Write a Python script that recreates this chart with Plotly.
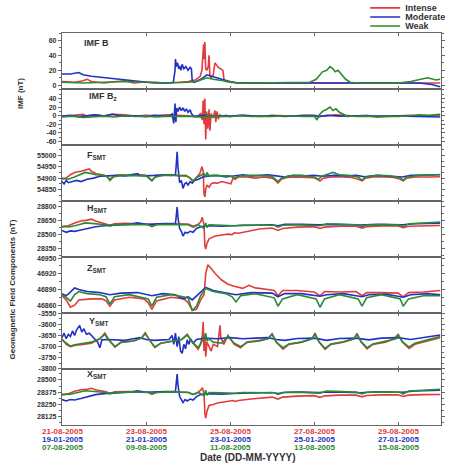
import plotly.graph_objects as go
from plotly.subplots import make_subplots

# ---------------- data (day offset from first date, value) ----------------
IMFB_RED = [(0,5),(0.3,4),(0.5,6),(0.6,8),(0.7,5),(0.85,4),(1.0,3),(1.3,5),(1.5,6),(1.7,3),(1.9,4),(2.2,4),(2.5,3),(2.8,4),(3.0,5),(3.17,7),(3.29,12),(3.33,20),(3.37,55),(3.38,35),(3.40,58),(3.42,22),(3.45,20),(3.48,25),(3.50,40),(3.52,12),(3.55,10),(3.6,14),(3.64,30),(3.68,27),(3.72,24),(3.78,22),(3.83,20),(3.86,6),(3.9,5),(4.0,4),(4.17,3),(4.5,3),(5.0,3),(5.5,4),(6.0,3),(6.5,3),(7.0,4),(7.5,3),(8.0,3),(8.5,3),(9.0,3)]
IMFB_BLUE = [(0,15),(0.2,15),(0.4,17),(0.5,14),(0.7,12),(1.0,10),(1.3,8),(1.6,6),(1.8,5),(2.0,4),(2.2,3),(2.5,3),(2.65,4),(2.69,20),(2.7,35),(2.72,25),(2.75,30),(2.78,22),(2.8,26),(2.83,20),(2.86,28),(2.9,22),(2.95,25),(3.0,20),(3.05,24),(3.08,22),(3.1,5),(3.15,4),(3.3,8),(3.45,14),(3.6,11),(3.8,8),(4.0,5),(4.2,3),(4.6,3),(5.0,3),(5.5,3),(6.0,3),(6.5,2),(7.0,3),(7.5,3),(8.0,3),(8.5,3),(8.8,1),(9.0,-2)]
IMFB_GREEN = [(0,4),(0.5,3),(1.0,4),(1.5,5),(2.0,4),(2.5,3),(3.0,4),(3.2,5),(3.35,8),(3.45,10),(3.6,8),(3.8,6),(4.0,4),(4.2,3),(4.5,3),(5.0,3),(5.5,3),(5.9,4),(6.05,8),(6.14,15),(6.2,18),(6.3,20),(6.38,25),(6.45,22),(6.5,18),(6.57,20),(6.65,14),(6.75,8),(6.86,4),(7.0,3),(7.5,3),(8.0,3),(8.3,5),(8.5,8),(8.7,10),(8.9,7),(9.0,8)]

BZ_RED = [(0,-2),(0.25,1),(0.5,3),(0.6,-1),(0.75,2),(1.0,0),(1.25,3),(1.5,2),(1.75,-1),(2.0,1),(2.25,0),(2.5,2),(2.75,1),(3.0,0),(3.2,-3),(3.3,5),(3.34,-10),(3.36,35),(3.38,-20),(3.40,40),(3.42,-55),(3.44,10),(3.47,-30),(3.50,15),(3.52,-35),(3.55,5),(3.6,-5),(3.64,12),(3.66,-15),(3.69,10),(3.72,-8),(3.76,2),(3.8,-2),(3.9,1),(4.0,-2),(4.25,1),(4.5,0),(4.75,-2),(5.0,1),(5.25,0),(5.5,-1),(5.75,1),(6.0,0),(6.25,-1),(6.5,2),(6.75,0),(7.0,-1),(7.25,1),(7.5,-3),(7.75,-2),(8.0,0),(8.25,1),(8.5,-1),(8.75,0),(9.0,1)]
BZ_BLUE = [(0,-1),(0.2,1),(0.4,-2),(0.6,0),(0.8,2),(1.0,-1),(1.2,4),(1.3,1),(1.5,-1),(1.8,0),(2.0,-2),(2.2,1),(2.4,0),(2.55,-1),(2.62,4),(2.66,-18),(2.69,28),(2.71,-15),(2.73,18),(2.76,10),(2.8,20),(2.84,12),(2.88,18),(2.92,10),(2.96,16),(3.0,8),(3.05,14),(3.08,5),(3.12,0),(3.2,-1),(3.4,1),(3.6,-2),(3.8,0),(4.0,-1),(4.3,1),(4.6,-1),(5.0,0),(5.3,-2),(5.6,0),(6.0,1),(6.1,-3),(6.3,1),(6.6,-1),(7.0,0),(7.4,-1),(7.8,0),(8.2,-1),(8.6,-2),(9.0,-3)]
BZ_GREEN = [(0,-3),(0.25,-1),(0.5,-4),(0.75,-2),(1.0,-1),(1.25,-3),(1.5,0),(1.75,-2),(2.0,-1),(2.25,-3),(2.5,-1),(2.75,-2),(3.0,-1),(3.25,-3),(3.4,-5),(3.45,3),(3.5,-2),(3.75,-1),(4.0,-2),(4.25,0),(4.5,-2),(4.75,-1),(5.0,-2),(5.25,0),(5.5,-1),(5.75,-2),(6.0,-1),(6.07,-10),(6.12,2),(6.2,10),(6.3,15),(6.38,20),(6.45,12),(6.52,16),(6.6,8),(6.7,3),(6.8,-2),(6.9,0),(7.0,-2),(7.25,-1),(7.5,-3),(7.75,-1),(8.0,-2),(8.25,0),(8.5,2),(8.75,1),(9.0,3)]

F_RED = [(0,54895),(0.1,54900),(0.2,54915),(0.3,54925),(0.45,54930),(0.55,54935),(0.65,54940),(0.7,54930),(0.8,54920),(0.95,54915),(1.05,54910),(1.14,54895),(1.25,54910),(1.4,54915),(1.6,54912),(1.8,54915),(2.0,54912),(2.08,54900),(2.14,54890),(2.22,54905),(2.35,54912),(2.6,54915),(2.8,54910),(2.95,54912),(3.05,54900),(3.12,54885),(3.2,54905),(3.28,54920),(3.33,54950),(3.36,54930),(3.38,54830),(3.40,54818),(3.42,54850),(3.45,54870),(3.5,54860),(3.55,54875),(3.6,54880),(3.7,54878),(3.8,54885),(3.95,54880),(4.02,54875),(4.07,54900),(4.12,54895),(4.2,54905),(4.4,54905),(4.6,54900),(4.8,54905),(5.0,54900),(5.08,54890),(5.14,54878),(5.22,54895),(5.35,54903),(5.6,54905),(5.8,54903),(6.0,54902),(6.08,54895),(6.14,54888),(6.22,54900),(6.4,54905),(6.7,54905),(6.9,54903),(7.05,54895),(7.14,54888),(7.22,54900),(7.4,54905),(7.7,54905),(7.9,54903),(8.05,54895),(8.12,54888),(8.2,54900),(8.4,54905),(8.7,54905),(9.0,54906)]
F_BLUE = [(0,54885),(0.05,54875),(0.1,54890),(0.15,54880),(0.25,54885),(0.35,54890),(0.45,54885),(0.6,54895),(0.75,54900),(0.9,54908),(1.1,54910),(1.3,54912),(1.5,54910),(1.7,54915),(1.8,54920),(1.85,54912),(2.0,54910),(2.2,54912),(2.4,54915),(2.6,54912),(2.7,54915),(2.72,54960),(2.74,55015),(2.76,54950),(2.78,54900),(2.8,54880),(2.84,54890),(2.88,54855),(2.92,54875),(2.96,54880),(3.0,54870),(3.05,54885),(3.1,54878),(3.15,54890),(3.25,54895),(3.35,54905),(3.5,54910),(3.7,54912),(3.9,54905),(4.1,54910),(4.3,54915),(4.5,54910),(4.7,54912),(4.9,54915),(5.1,54910),(5.3,54905),(5.5,54912),(5.8,54910),(6.0,54912),(6.2,54908),(6.5,54912),(6.8,54910),(7.0,54912),(7.2,54906),(7.5,54912),(7.8,54910),(8.1,54905),(8.3,54912),(8.6,54914),(9.0,54915)]
F_GREEN = [(0,54900),(0.15,54895),(0.3,54905),(0.45,54915),(0.55,54925),(0.65,54922),(0.8,54915),(1.0,54912),(1.08,54905),(1.14,54890),(1.22,54905),(1.4,54912),(1.7,54912),(2.0,54910),(2.08,54898),(2.14,54888),(2.22,54905),(2.4,54912),(2.7,54912),(2.95,54910),(3.05,54900),(3.12,54888),(3.2,54902),(3.3,54912),(3.38,54920),(3.42,54905),(3.45,54925),(3.5,54910),(3.6,54912),(3.8,54910),(4.0,54910),(4.1,54900),(4.2,54908),(4.5,54912),(4.8,54910),(5.0,54908),(5.08,54895),(5.14,54885),(5.22,54900),(5.4,54910),(5.7,54912),(6.0,54905),(6.1,54895),(6.2,54910),(6.45,54925),(6.6,54915),(6.8,54912),(7.05,54905),(7.14,54890),(7.22,54905),(7.5,54912),(7.8,54910),(8.05,54902),(8.12,54890),(8.2,54905),(8.5,54912),(8.8,54914),(9.0,54916)]

H_RED = [(0,28580),(0.15,28590),(0.3,28620),(0.45,28640),(0.6,28650),(0.7,28660),(0.8,28640),(0.95,28620),(1.05,28615),(1.14,28595),(1.25,28610),(1.5,28615),(1.8,28612),(2.05,28605),(2.14,28590),(2.22,28605),(2.5,28612),(2.8,28610),(3.0,28608),(3.12,28585),(3.22,28600),(3.3,28630),(3.34,28680),(3.36,28640),(3.38,28600),(3.40,28380),(3.42,28340),(3.45,28400),(3.5,28450),(3.55,28460),(3.65,28480),(3.8,28490),(3.95,28500),(4.05,28495),(4.1,28515),(4.2,28510),(4.4,28530),(4.7,28555),(5.0,28565),(5.14,28540),(5.25,28560),(5.6,28575),(6.0,28580),(6.14,28560),(6.25,28575),(6.6,28585),(7.0,28585),(7.14,28565),(7.25,28580),(7.6,28588),(8.0,28588),(8.12,28570),(8.25,28585),(8.6,28590),(9.0,28592)]
H_BLUE = [(0,28540),(0.1,28520),(0.2,28535),(0.3,28530),(0.45,28545),(0.6,28560),(0.8,28580),(1.0,28590),(1.3,28600),(1.6,28605),(1.8,28620),(2.0,28605),(2.3,28610),(2.6,28612),(2.7,28615),(2.72,28700),(2.74,28790),(2.76,28680),(2.8,28560),(2.84,28530),(2.88,28480),(2.93,28520),(2.98,28510),(3.05,28530),(3.12,28520),(3.2,28560),(3.3,28580),(3.5,28590),(3.8,28585),(4.1,28590),(4.5,28595),(5.0,28600),(5.14,28590),(5.3,28605),(5.7,28605),(6.1,28600),(6.5,28605),(7.1,28598),(7.5,28605),(8.1,28600),(8.4,28612),(9.0,28618)]
H_GREEN = [(0,28580),(0.2,28580),(0.4,28600),(0.55,28620),(0.7,28615),(0.9,28605),(1.05,28600),(1.14,28585),(1.25,28600),(1.6,28605),(2.05,28600),(2.14,28580),(2.25,28600),(2.6,28605),(3.0,28600),(3.12,28575),(3.25,28600),(3.38,28560),(3.42,28620),(3.45,28570),(3.5,28600),(3.8,28595),(4.1,28590),(4.3,28598),(4.8,28600),(5.05,28595),(5.14,28575),(5.25,28595),(5.6,28600),(6.0,28598),(6.14,28590),(6.3,28612),(6.6,28605),(7.0,28600),(7.14,28580),(7.25,28598),(7.7,28602),(8.05,28598),(8.12,28580),(8.25,28610),(8.6,28620),(9.0,28630)]

Z_RED = [(0,46878),(0.1,46870),(0.2,46856),(0.3,46860),(0.4,46870),(0.7,46872),(0.95,46872),(1.05,46868),(1.14,46858),(1.25,46870),(1.6,46875),(1.95,46872),(2.05,46865),(2.14,46852),(2.25,46868),(2.6,46875),(2.9,46872),(3.0,46865),(3.1,46850),(3.2,46852),(3.3,46870),(3.38,46880),(3.42,46920),(3.47,46937),(3.55,46930),(3.65,46920),(3.8,46908),(3.95,46900),(4.1,46896),(4.3,46892),(4.45,46898),(4.6,46893),(4.9,46890),(5.05,46888),(5.14,46878),(5.25,46888),(5.6,46888),(6.0,46885),(6.14,46878),(6.25,46886),(6.6,46885),(7.0,46886),(7.14,46878),(7.25,46884),(7.6,46884),(8.0,46883),(8.12,46876),(8.25,46884),(8.6,46885),(9.0,46888)]
Z_BLUE = [(0,46882),(0.1,46878),(0.2,46885),(0.3,46893),(0.4,46890),(0.6,46886),(0.9,46884),(1.14,46880),(1.4,46883),(1.8,46884),(2.14,46878),(2.4,46882),(2.7,46880),(2.8,46875),(2.9,46872),(3.0,46876),(3.1,46870),(3.2,46878),(3.3,46886),(3.42,46894),(3.6,46888),(3.9,46884),(4.14,46880),(4.5,46884),(5.0,46883),(5.14,46876),(5.3,46882),(5.7,46882),(6.14,46877),(6.3,46880),(6.7,46882),(7.14,46876),(7.3,46880),(7.7,46881),(8.12,46875),(8.3,46880),(8.7,46882),(9.0,46880)]
Z_GREEN = [(0,46880),(0.1,46875),(0.2,46868),(0.3,46880),(0.4,46886),(0.6,46882),(0.9,46880),(1.05,46876),(1.14,46862),(1.25,46876),(1.6,46880),(2.05,46872),(2.14,46858),(2.25,46875),(2.6,46880),(3.0,46874),(3.1,46850),(3.2,46858),(3.3,46878),(3.42,46892),(3.6,46886),(3.9,46882),(4.05,46876),(4.14,46866),(4.25,46878),(4.6,46882),(5.05,46874),(5.14,46858),(5.25,46872),(5.6,46880),(6.05,46872),(6.14,46856),(6.25,46872),(6.6,46880),(7.05,46872),(7.14,46858),(7.25,46874),(7.6,46880),(8.05,46872),(8.12,46858),(8.25,46872),(8.6,46878),(9.0,46878)]

Y_RED = [(0,-3665),(0.1,-3690),(0.2,-3700),(0.3,-3695),(0.5,-3690),(0.7,-3685),(0.9,-3665),(1.02,-3640),(1.1,-3665),(1.26,-3702),(1.4,-3680),(1.7,-3675),(1.9,-3660),(1.98,-3638),(2.08,-3670),(2.21,-3705),(2.35,-3685),(2.6,-3678),(2.85,-3668),(2.98,-3645),(3.1,-3680),(3.24,-3712),(3.3,-3690),(3.34,-3650),(3.36,-3590),(3.38,-3720),(3.40,-3650),(3.42,-3745),(3.45,-3680),(3.5,-3700),(3.55,-3720),(3.6,-3690),(3.7,-3700),(3.74,-3640),(3.76,-3605),(3.78,-3660),(3.85,-3690),(3.95,-3650),(4.1,-3690),(4.25,-3705),(4.4,-3680),(4.7,-3672),(4.9,-3665),(5.0,-3642),(5.1,-3680),(5.26,-3712),(5.4,-3690),(5.7,-3680),(5.95,-3665),(6.02,-3640),(6.12,-3680),(6.26,-3712),(6.4,-3690),(6.7,-3680),(6.95,-3665),(7.02,-3642),(7.12,-3680),(7.26,-3710),(7.4,-3690),(7.7,-3680),(7.9,-3665),(8.0,-3645),(8.1,-3680),(8.26,-3708),(8.4,-3690),(8.7,-3675),(9.0,-3660)]
Y_BLUE = [(0,-3660),(0.05,-3640),(0.1,-3665),(0.15,-3645),(0.2,-3655),(0.25,-3630),(0.3,-3650),(0.35,-3625),(0.42,-3605),(0.47,-3635),(0.52,-3620),(0.58,-3645),(0.65,-3640),(0.75,-3660),(0.85,-3680),(0.9,-3705),(0.95,-3670),(1.1,-3668),(1.3,-3670),(1.5,-3672),(1.7,-3665),(1.85,-3660),(2.0,-3668),(2.2,-3672),(2.4,-3670),(2.55,-3668),(2.62,-3650),(2.66,-3690),(2.7,-3640),(2.74,-3700),(2.78,-3655),(2.82,-3720),(2.86,-3730),(2.9,-3690),(2.94,-3710),(2.98,-3670),(3.02,-3690),(3.06,-3665),(3.12,-3685),(3.2,-3668),(3.4,-3662),(3.7,-3665),(4.0,-3660),(4.3,-3665),(4.6,-3662),(4.9,-3660),(5.1,-3668),(5.3,-3672),(5.6,-3664),(6.0,-3662),(6.3,-3672),(6.6,-3664),(7.0,-3662),(7.3,-3670),(7.6,-3662),(8.0,-3660),(8.3,-3668),(8.6,-3660),(9.0,-3648)]
Y_GREEN = [(0,-3670),(0.1,-3685),(0.2,-3698),(0.3,-3692),(0.5,-3685),(0.7,-3680),(0.9,-3665),(1.02,-3645),(1.1,-3668),(1.26,-3700),(1.4,-3682),(1.7,-3675),(1.9,-3662),(1.98,-3642),(2.08,-3670),(2.21,-3702),(2.35,-3685),(2.6,-3678),(2.85,-3668),(2.98,-3648),(3.1,-3680),(3.24,-3705),(3.32,-3680),(3.38,-3660),(3.42,-3640),(3.45,-3675),(3.5,-3665),(3.6,-3680),(3.8,-3685),(3.95,-3655),(4.1,-3685),(4.25,-3700),(4.4,-3682),(4.7,-3675),(4.9,-3665),(5.0,-3645),(5.1,-3680),(5.26,-3705),(5.4,-3688),(5.7,-3680),(5.95,-3665),(6.02,-3645),(6.12,-3680),(6.26,-3708),(6.4,-3688),(6.7,-3678),(6.95,-3665),(7.02,-3645),(7.12,-3678),(7.26,-3705),(7.4,-3688),(7.7,-3675),(7.95,-3665),(8.0,-3648),(8.1,-3678),(8.26,-3702),(8.4,-3685),(8.7,-3670),(9.0,-3655)]

X_RED = [(0,28350),(0.15,28360),(0.3,28385),(0.45,28400),(0.6,28405),(0.7,28415),(0.8,28400),(0.95,28385),(1.05,28380),(1.14,28362),(1.25,28378),(1.6,28382),(2.05,28375),(2.14,28358),(2.25,28375),(2.6,28380),(3.0,28375),(3.12,28355),(3.22,28370),(3.3,28395),(3.34,28420),(3.36,28390),(3.38,28360),(3.40,28160),(3.42,28110),(3.45,28180),(3.5,28240),(3.6,28250),(3.7,28265),(3.85,28275),(4.0,28280),(4.07,28290),(4.12,28280),(4.2,28290),(4.5,28305),(4.8,28320),(5.0,28325),(5.14,28305),(5.25,28325),(5.6,28335),(6.0,28340),(6.14,28322),(6.25,28338),(6.6,28345),(7.0,28345),(7.14,28328),(7.25,28342),(7.6,28348),(8.0,28348),(8.12,28332),(8.25,28345),(8.6,28350),(9.0,28352)]
X_BLUE = [(0,28300),(0.1,28285),(0.2,28300),(0.3,28295),(0.45,28310),(0.6,28330),(0.8,28350),(1.0,28360),(1.3,28370),(1.6,28375),(1.8,28390),(2.0,28375),(2.3,28380),(2.6,28382),(2.7,28385),(2.72,28470),(2.74,28560),(2.76,28450),(2.8,28330),(2.84,28300),(2.88,28270),(2.93,28300),(2.98,28285),(3.05,28305),(3.12,28295),(3.2,28330),(3.3,28350),(3.5,28360),(3.8,28355),(4.1,28362),(4.5,28368),(5.0,28372),(5.14,28362),(5.3,28375),(5.7,28376),(6.1,28372),(6.5,28378),(7.1,28370),(7.5,28378),(8.1,28374),(8.4,28388),(9.0,28395)]
X_GREEN = [(0,28350),(0.2,28355),(0.4,28375),(0.55,28390),(0.7,28385),(0.9,28378),(1.05,28372),(1.14,28358),(1.25,28372),(1.6,28378),(2.05,28372),(2.14,28355),(2.25,28372),(2.6,28378),(3.0,28372),(3.12,28350),(3.25,28372),(3.38,28340),(3.42,28395),(3.45,28345),(3.5,28372),(3.8,28370),(4.1,28365),(4.3,28372),(4.8,28375),(5.05,28370),(5.14,28352),(5.25,28370),(5.6,28376),(6.0,28374),(6.14,28366),(6.3,28388),(6.6,28380),(7.0,28376),(7.14,28358),(7.25,28374),(7.7,28378),(8.05,28374),(8.12,28356),(8.25,28386),(8.6,28395),(9.0,28405)]

SERIES_NAMES = ["Intense", "Moderate", "Weak"]
SERIES_COLORS = ["#e23b3b", "#2231c4", "#2c8a32"]
PANEL_LABELS = ["IMF B", "IMF B<sub>z</sub>", "F<sub>SMT</sub>", "H<sub>SMT</sub>",
                "Z<sub>SMT</sub>", "Y<sub>SMT</sub>", "X<sub>SMT</sub>"]
PANELS = [
    (IMFB_RED, IMFB_BLUE, IMFB_GREEN),
    (BZ_RED, BZ_BLUE, BZ_GREEN),
    (F_RED, F_BLUE, F_GREEN),
    (H_RED, H_BLUE, H_GREEN),
    (Z_RED, Z_BLUE, Z_GREEN),
    (Y_RED, Y_BLUE, Y_GREEN),
    (X_RED, X_BLUE, X_GREEN),
]
Y_RANGES = [(-5, 70), (-68, 62), (54800, 55045), (28255, 28855), (46845, 46952), (-3800.5, -3549.5), (28040, 28612)]
Y_TICKS = [
    [0, 20, 40, 60],
    [-60, -40, -20, 0, 20, 40],
    [54850, 54900, 54950, 55000],
    [28350, 28500, 28650, 28800],
    [46860, 46890, 46920, 46950],
    [-3800, -3750, -3700, -3650, -3600, -3550],
    [28125, 28250, 28375, 28500],
]
Y_MINOR = [10, 10, 25, 75, 15, 25, 62.5]
LABEL_POS = [(0.053, 0.82), (0.066, 0.86), (0.06, 0.82), (0.06, 0.86), (0.06, 0.80), (0.066, 0.84), (0.06, 0.91)]

X_TICK_DAYS = [0, 2, 4, 6, 8]
DATES_INTENSE = ["21-08-2005", "23-08-2005", "25-08-2005", "27-08-2005", "29-08-2005"]
DATES_MODERATE = ["19-01-2005", "21-01-2005", "23-01-2005", "25-01-2005", "27-01-2005"]
DATES_WEAK = ["07-08-2005", "09-08-2005", "11-08-2005", "13-08-2005", "15-08-2005"]

FONT = "Liberation Sans, Arial, sans-serif"
TXT = "#333333"
AXC = "#666666"

fig = make_subplots(rows=7, cols=1, shared_xaxes=True, vertical_spacing=0)

for r, panel in enumerate(PANELS, start=1):
    for k, series in enumerate(panel):
        xs = [p[0] for p in series]
        ys = [p[1] for p in series]
        fig.add_trace(go.Scatter(
            x=xs, y=ys, mode="lines",
            line=dict(color=SERIES_COLORS[k], width=1.6),
            name=SERIES_NAMES[k], showlegend=(r == 1),
            legend=["legend", "legend2", "legend3"][k],
        ), row=r, col=1)

for r in range(1, 8):
    lo, hi = Y_RANGES[r - 1]
    ticks = Y_TICKS[r - 1]
    fig.update_yaxes(
        range=[lo, hi], tickmode="array", tickvals=ticks, ticktext=[str(v) for v in ticks],
        showline=True, linecolor=AXC, linewidth=1.2, mirror="ticks",
        ticks="outside", ticklen=3, tickwidth=1, tickcolor=AXC,
        minor=dict(ticks="outside", ticklen=2, tickmode="linear", tick0=ticks[0],
                   dtick=Y_MINOR[r - 1], tickcolor=AXC),
        showgrid=False, zeroline=False,
        tickfont=dict(family=FONT, size=7, color=TXT, weight="bold"),
        row=r, col=1)
    fig.update_xaxes(
        range=[0, 9.02], tickvals=X_TICK_DAYS,
        showline=True, linecolor=AXC, linewidth=1.2, mirror="ticks",
        ticks="inside", ticklen=3, tickcolor=AXC,
        showgrid=False, zeroline=False, showticklabels=False,
        row=r, col=1)
    lx, ly = LABEL_POS[r - 1]
    xd = "x domain" if r == 1 else f"x{r} domain"
    yd = "y domain" if r == 1 else f"y{r} domain"
    fig.add_annotation(xref=xd, yref=yd, x=lx, y=ly, text=PANEL_LABELS[r - 1],
                       showarrow=False, xanchor="left", yanchor="middle",
                       font=dict(family=FONT, size=9, color=TXT, weight="bold"))

# multi-coloured date labels below the bottom axis
for rows_text, color, yy in [(DATES_INTENSE, SERIES_COLORS[0], -0.016),
                             (DATES_MODERATE, SERIES_COLORS[1], -0.037),
                             (DATES_WEAK, SERIES_COLORS[2], -0.058)]:
    for d, t in zip(X_TICK_DAYS, rows_text):
        fig.add_annotation(xref="x7", yref="paper", x=d, y=yy, text=t, showarrow=False,
                           xanchor="center", yanchor="middle",
                           font=dict(family=FONT, size=8, color=color, weight="bold"))

fig.add_annotation(xref="paper", yref="paper", x=0.49, y=-0.084, text="Date (DD-MM-YYYY)",
                   showarrow=False, xanchor="center", yanchor="middle",
                   font=dict(family=FONT, size=10, color=TXT, weight="bold"))
fig.add_annotation(xref="paper", yref="paper", x=-0.11, y=0.845, text="IMF (nT)",
                   textangle=-90, showarrow=False, xanchor="center", yanchor="middle",
                   font=dict(family=FONT, size=8, color=TXT, weight="bold"))
fig.add_annotation(xref="paper", yref="paper", x=-0.13, y=0.345, text="Geomagnetic Field Components (nT)",
                   textangle=-90, showarrow=False, xanchor="center", yanchor="middle",
                   font=dict(family=FONT, size=8, color=TXT, weight="bold"))

leg_common = dict(x=0.80, xanchor="left", yanchor="middle", bgcolor="rgba(0,0,0,0)",
                  font=dict(family=FONT, size=9, color=TXT, weight="bold"))
fig.update_layout(
    width=474, height=472,
    margin=dict(l=62, r=33, t=33, b=47, autoexpand=False),
    paper_bgcolor="white", plot_bgcolor="white",
    legend=dict(y=1.064, **leg_common),
    legend2=dict(y=1.041, **leg_common),
    legend3=dict(y=1.018, **leg_common),
)

fig.write_html("out.html", config={"displayModeBar": False},
               post_script="document.body.style.margin='0';")
